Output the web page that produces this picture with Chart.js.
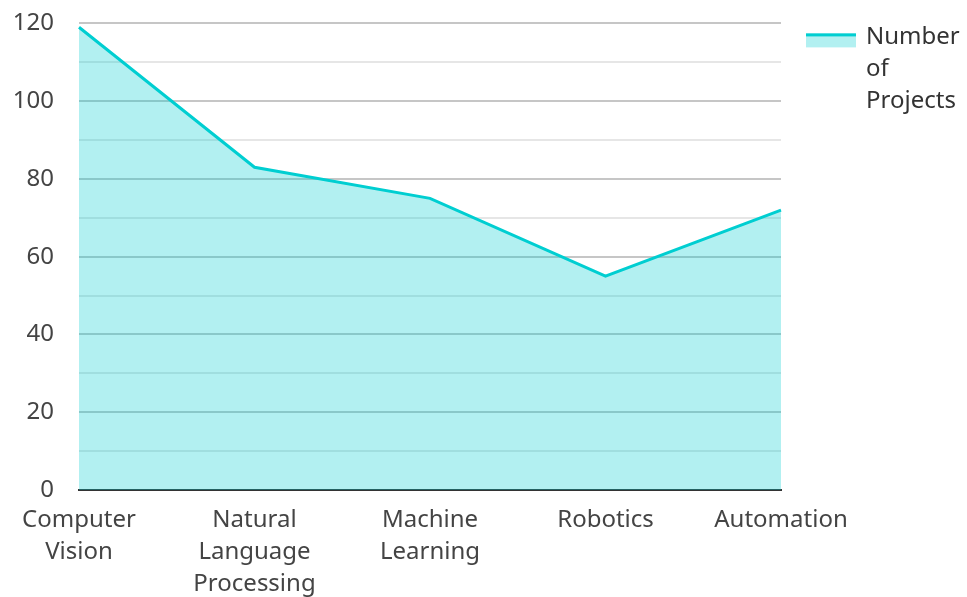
<!DOCTYPE html>
<html>
<head>
<meta charset="utf-8">
<script src="https://cdn.jsdelivr.net/npm/chart.js@4.4.0/dist/chart.umd.min.js"></script>
<style>
  html, body { margin: 0; padding: 0; background: #fff; }
  #wrap { width: 967px; height: 597px; position: relative; overflow: hidden; }
  #inner { position: absolute; left: 0; top: -16px; width: 967px; height: 613px; }
</style>
</head>
<body>
<div id="wrap"><div id="inner"><canvas id="areaChart"></canvas></div></div>
<script>
// chart data
const categories = [
  ['Computer', 'Vision'],
  ['Natural', 'Language', 'Processing'],
  ['Machine', 'Learning'],
  'Robotics',
  'Automation'
];
const projectCounts = [119, 83, 75, 55, 72];
const seriesName = 'Number of Projects';
const legendLines = ['Number', 'of', 'Projects'];
const yTicks = [0, 20, 40, 60, 80, 100, 120];

const lineColor = '#00CED1';
const fillColor = 'rgba(0, 206, 209, 0.3)';
const fontFamily = '"Noto Sans", "Open Sans", sans-serif';
const fontSize = 24;

// legend drawn on the right, text wrapped like the original
const sideLegend = {
  id: 'sideLegend',
  afterDraw(chart) {
    const ctx = chart.ctx;
    const x = chart.chartArea.right + 25;
    const y = chart.chartArea.top + 10;
    ctx.save();
    ctx.fillStyle = fillColor;
    ctx.fillRect(x, y, 50, 14);
    ctx.fillStyle = lineColor;
    ctx.fillRect(x, y, 50, 3);
    ctx.fillStyle = '#333';
    ctx.font = fontSize + 'px ' + fontFamily;
    ctx.textBaseline = 'middle';
    legendLines.forEach((line, i) => {
      ctx.fillText(line, x + 60, y + 4 + i * 32);
    });
    ctx.restore();
  }
};

const ctx = document.getElementById('areaChart').getContext('2d');
new Chart(ctx, {
  type: 'line',
  data: {
    labels: categories,
    datasets: [{
      label: seriesName,
      data: projectCounts,
      borderColor: lineColor,
      backgroundColor: fillColor,
      borderWidth: 3,
      fill: true,
      tension: 0,
      pointRadius: 0
    }]
  },
  options: {
    responsive: true,
    maintainAspectRatio: false,
    animation: false,
    layout: { padding: { top: -8, right: 186, left: 0, bottom: 0 } },
    plugins: {
      legend: { display: false },
      tooltip: { enabled: false }
    },
    scales: {
      x: {
        offset: false,
        afterFit(scale) { scale.height = 107; },
        grid: { display: false, drawTicks: false },
        border: { display: true, color: '#333', width: 2 },
        ticks: {
          color: '#444',
          font: { family: fontFamily, size: fontSize, lineHeight: 1.34 },
          padding: 14,
          maxRotation: 0,
          autoSkip: false
        }
      },
      y: {
        min: 0,
        max: 120,
        afterFit(scale) { scale.width = 79; },
        border: { display: false },
        grid: {
          drawTicks: false,
          color: (c) => {
            const v = c.tick.value;
            if (v === 0) return 'rgba(0,0,0,0)';
            return yTicks.includes(v) ? '#c6c6c6' : '#e6e6e6';
          },
          lineWidth: 2
        },
        ticks: {
          stepSize: 10,
          color: '#444',
          font: { family: fontFamily, size: fontSize },
          padding: 25,
          callback: (v) => yTicks.includes(v) ? v : ''
        }
      }
    }
  },
  plugins: [sideLegend]
});
</script>
</body>
</html>
